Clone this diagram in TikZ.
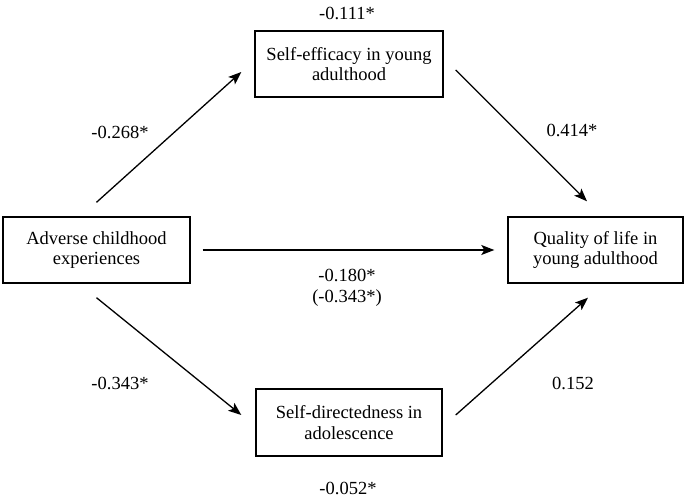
\documentclass[tikz,border=0pt]{standalone}
\usepackage{fontspec}
\setmainfont{Liberation Serif}
\usetikzlibrary{arrows.meta,calc}
\begin{document}
\begin{tikzpicture}[x=1pt,y=-1pt,
  box/.style={draw, line width=1.4pt, minimum height=66pt, align=center, inner sep=0pt,
    font=\fontsize{18.5}{20.5}\selectfont},
  lbl/.style={align=center, inner sep=0pt, font=\fontsize{18.5}{20.5}\selectfont},
  arr/.style={line width=1.3pt, -{Stealth[length=13pt,width=10pt,inset=3pt]}}]
\useasboundingbox (0,0) rectangle (685,497);
\node[box, minimum width=187pt] (ace) at (96.5,250) {Adverse childhood\\experiences};
\node[box, minimum width=188pt] (se) at (349,64) {Self-efficacy in young\\adulthood};
\node[box, minimum width=175pt] (qol) at (595.5,250) {Quality of life in\\young adulthood};
\node[box, minimum width=186pt, minimum height=67pt] (sd) at (349,422.5) {Self-directedness in\\adolescence};
\draw[arr] ($(ace.north)+(0,-14)$) -- ($(se.west)+(-13,8)$);
\draw[arr] ($(se.east)+(12,6)$) -- ($(qol.north)+(-8.5,-15)$);
\draw[arr] ($(ace.south)+(0,14)$) -- ($(sd.west)+(-14,-7.5)$);
\draw[arr] ($(sd.east)+(13,-7.5)$) -- ($(qol.south)+(-7.5,14)$);
\draw[arr] ($(ace.east)+(12,0)$) -- ($(qol.west)+(-13,0)$);
\node[lbl] (l1) at (347,13) {-0.111*};
\node[lbl] (l2) at (120,132) {-0.268*};
\node[lbl] (l3) at (572,130) {0.414*};
\node[lbl] (l4) at (347,288) {-0.180*\\(-0.343*)};
\node[lbl] (l5) at (120,383) {-0.343*};
\node[lbl] (l6) at (573,383) {0.152};
\node[lbl] (l7) at (348,488) {-0.052*};
\end{tikzpicture}
\end{document}
